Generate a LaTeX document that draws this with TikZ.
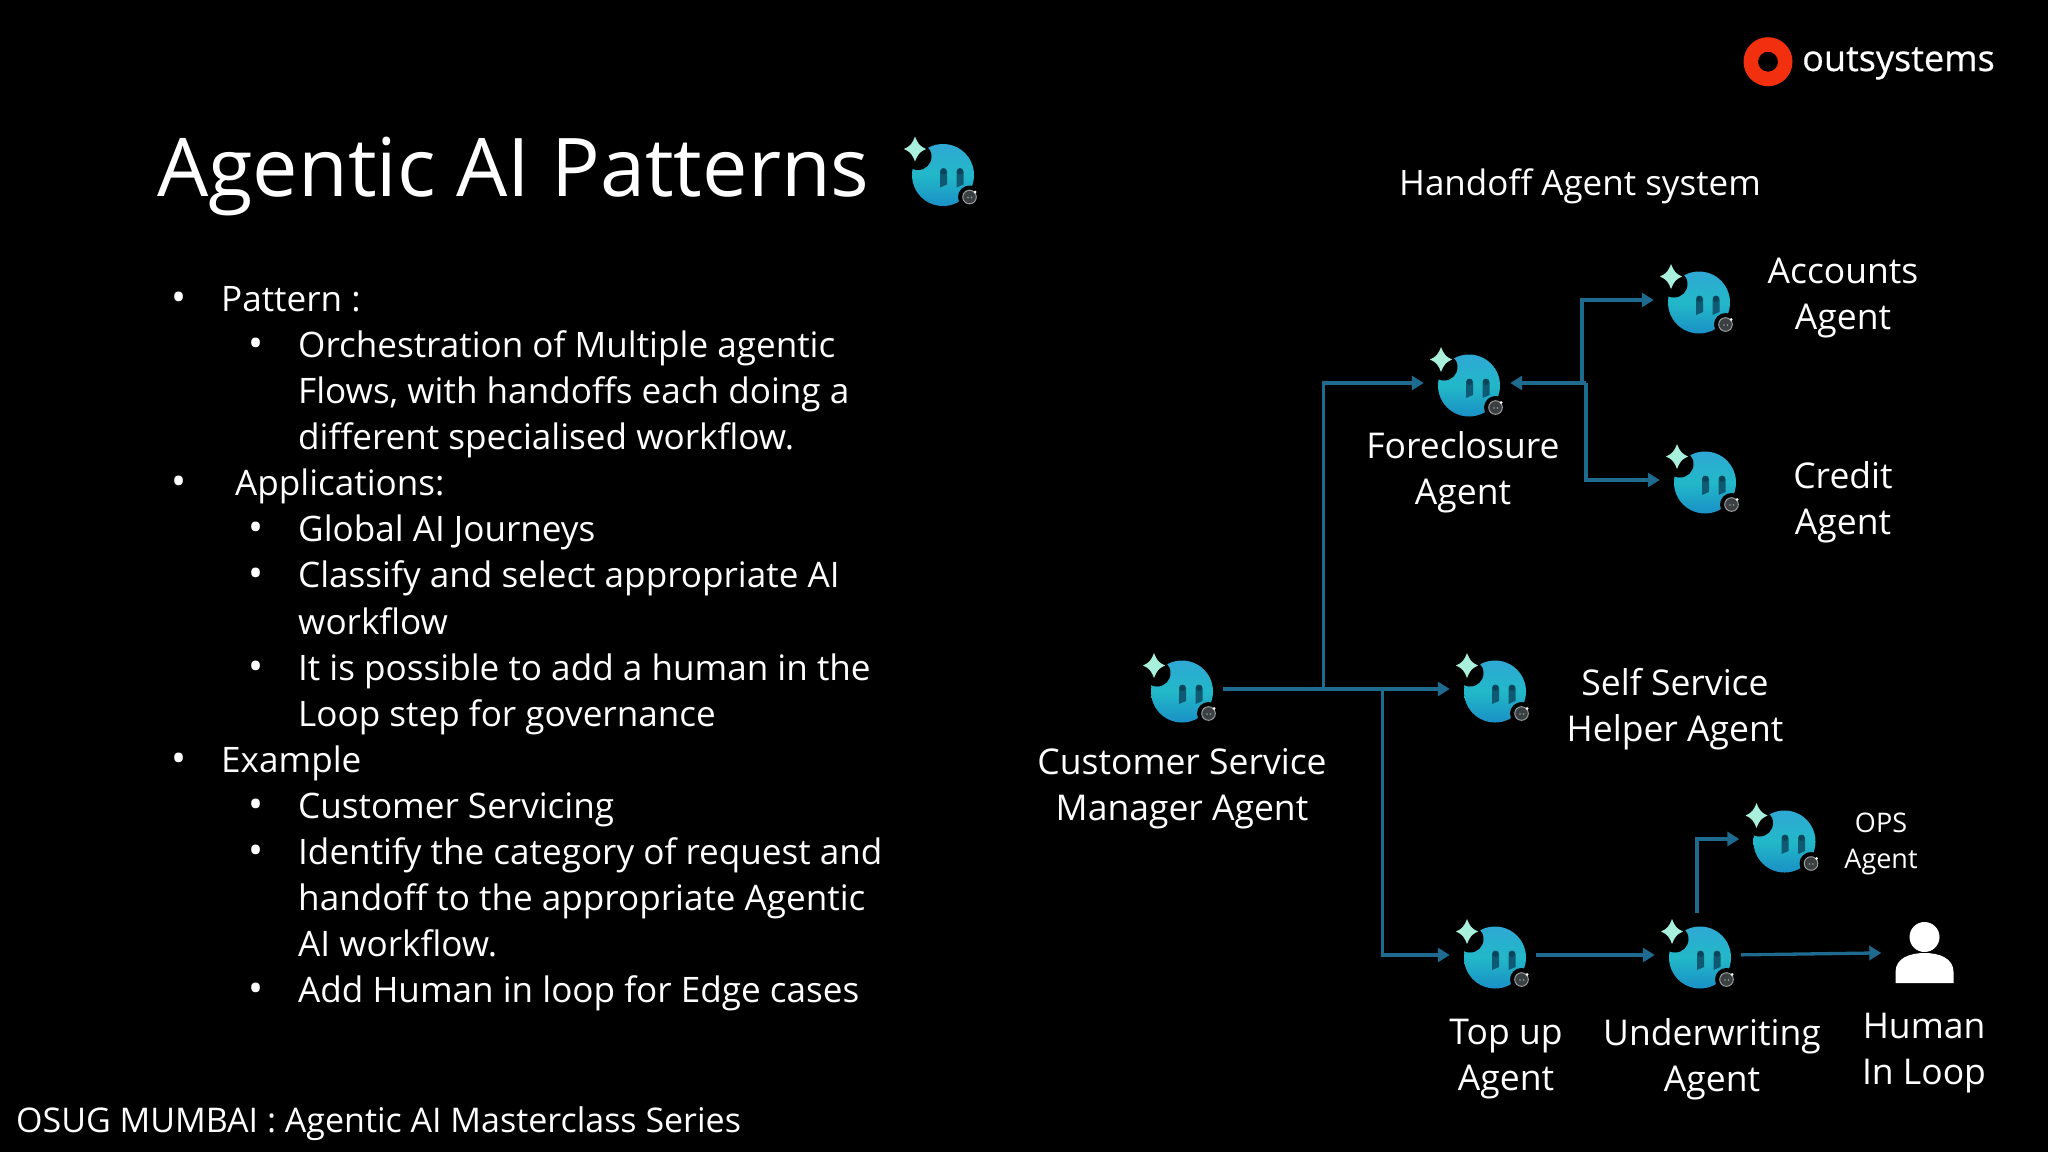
\documentclass[tikz,border=0pt]{standalone}
\usepackage{fontspec}
\setmainfont{Open Sans}
\usetikzlibrary{arrows.meta}
\definecolor{flowblue}{HTML}{1F6A8F}
\definecolor{logored}{HTML}{F2300F}
\definecolor{sparkle}{HTML}{A8F0DC}
\definecolor{eyedark}{HTML}{0B4458}
\definecolor{eyelow}{HTML}{0F5A72}
\definecolor{balltop}{HTML}{2FA8D4}
\definecolor{ballmid}{HTML}{22B8C8}
\definecolor{ballbot}{HTML}{1A90C6}
\definecolor{badgefill}{HTML}{3A3F42}
\definecolor{badgeline}{HTML}{9A9C9E}
\tikzset{
  x=1pt,y=-1pt,
  flow/.style={draw=flowblue,line width=3.3pt,-{Triangle[length=12pt,width=14pt]},shorten >=14pt},
  back/.style={flow,shorten >=10pt,shorten <=0pt},
  hub/.style={circle,minimum size=62pt,inner sep=0pt},
  lbl/.style={text=white,align=center,font=\fontsize{35.5}{46}\selectfont},
  small/.style={text=white,align=center,font=\fontsize{27}{36}\selectfont},
  item/.style={text=white,anchor=base west,inner sep=0pt,font=\fontsize{35.1}{46}\selectfont},
  dot/.style={text=white,anchor=base,inner sep=0pt,font=\fontsize{40}{46}\selectfont},
  agent/.pic={
    \shade[top color=balltop,bottom color=ballbot,middle color=ballmid] (0,2.5) circle[radius=31];
    \fill[black] (-25,-16) circle[radius=13.5];
    \fill[black] (26.5,24.5) circle[radius=11.5];
    \fill[sparkle] (-28,-36) .. controls (-25,-28.5) and (-23.5,-26.5) .. (-17,-23.5)
      .. controls (-23.5,-20.5) and (-25,-18.5) .. (-28,-11)
      .. controls (-31,-18.5) and (-32.5,-20.5) .. (-39,-23.5)
      .. controls (-32.5,-26.5) and (-31,-28.5) .. cycle;
    \foreach \ex in {0.5,17}{
      \fill[eyelow] (\ex-3.5,15) -- (\ex-3.5,-1) arc[start angle=180,end angle=360,radius=3.5] -- (\ex+3.5,12) -- cycle;
      \fill[eyedark] (\ex,-1) circle[radius=3];
    }
    \draw[draw=badgeline,fill=badgefill,line width=1pt] (26.5,24.5) circle[radius=6.8];
    \fill[white] (32,19.5) circle[radius=1.5];
    \fill[badgeline] (25,25) circle[radius=0.8] (28.5,25) circle[radius=0.8];
  }
}
\newfontfamily\logofont{Open Sans}[FakeBold=0.5]
\begin{document}
\begin{tikzpicture}
  \path[use as bounding box,fill=black] (0,0) rectangle (2048,1152);

  % logo and headings
  \fill[logored,even odd rule] (1768,61.7) circle[radius=24.5] circle[radius=10];
  \node[text=white,anchor=base west,inner sep=0pt,font=\logofont\fontsize{36}{40}\selectfont] (logo) at (1802,71) {outsystems};
  \node[text=white,anchor=base west,inner sep=0pt,font=\fontsize{81}{90}\selectfont] (title) at (157,196) {Agentic AI Patterns};
  \node[text=white,anchor=base west,inner sep=0pt,font=\fontsize{34}{40}\selectfont] (footer) at (16,1132) {OSUG MUMBAI : Agentic AI Masterclass Series};
  \node[lbl,font=\fontsize{35}{46}\selectfont] (head) at (1580,186) {Handoff Agent system};

  % bullet list
  \foreach \k/\lx/\bx/\bul/\txt in {
    0/221/179/1/{Pattern :},
    1/298/256/1/{Orchestration of Multiple agentic},
    2/298/256/0/{Flows, with handoffs each doing a},
    3/298/256/0/{different specialised workflow.},
    4/235/179/1/{Applications:},
    5/298/256/1/{Global AI Journeys},
    6/298/256/1/{Classify and select appropriate AI},
    7/298/256/0/{workflow},
    8/298/256/1/{It is possible to add a human in the},
    9/298/256/0/{Loop step for governance},
    10/221/179/1/{Example},
    11/298/256/1/{Customer Servicing},
    12/298/256/1/{Identify the category of request and},
    13/298/256/0/{handoff to the appropriate Agentic},
    14/298/256/0/{AI workflow.},
    15/298/256/1/{Add Human in loop for Edge cases}}{
    \node[item] (line\k) at (\lx,311.5+46.07*\k) {\txt};
    \ifnum\bul=1
      \node[dot] (bul\k) at (\bx,311.5+46.07*\k) {•};
    \fi
  }

  % agents
  \foreach \n/\x/\y in {tic/943/172.5,cs/1182/689,fore/1469/383,acc/1699/300,cred/1705/480,
    self/1495/689,topup/1495/955,uw/1700/955,ops/1784.5/839}{
    \node[hub] (\n) at (\x,\y) {};
    \pic at (\n) {agent};
  }

  % human
  \node[circle,minimum size=58pt,inner sep=0pt] (human) at (1924.5,952.7) {};
  \fill[white] (1924.5,937) circle[radius=15];
  \fill[white] (1895.5,983) -- (1895.5,972) .. controls (1895.5,958) and (1910,953) .. (1924.5,953)
    .. controls (1939,953) and (1953.5,958) .. (1953.5,972) -- (1953.5,983) -- cycle;

  % labels
  \node[lbl] (lacc) at (1843,298) {Accounts\\Agent};
  \node[lbl] (lfore) at (1463,472) {Foreclosure\\Agent};
  \node[lbl] (lcred) at (1843,502) {Credit\\Agent};
  \node[lbl] (lself) at (1675,709) {Self Service\\Helper Agent};
  \node[lbl] (lcs) at (1182,789) {Customer Service\\Manager Agent};
  \node[small] (lops) at (1881,844) {OPS\\Agent};
  \node[lbl] (ltop) at (1506,1059) {Top up\\Agent};
  \node[lbl] (luw) at (1712,1059) {Underwriting\\Agent};
  \node[lbl] (lhum) at (1924,1053) {Human\\In Loop};

  % connectors
  \coordinate (j1) at (1323.5,689);
  \coordinate (j2) at (1382.4,689);
  \coordinate (j3) at (1586,383);
  \coordinate (j4) at (1582,383);
  \coordinate (j5) at (1697,913);
  \draw[flow,shorten <=10pt] (cs.east) -- (self.west);
  \draw[flow] (j1) |- (fore.west);
  \draw[flow] (j2) |- (topup.west);
  \draw[back] (j3) -- (fore.east);
  \draw[flow] (j4) |- (acc.west);
  \draw[flow] (j3) |- (cred.west);
  \draw[flow,shorten <=10pt] (topup.east) -- (uw.west);
  \draw[flow] (j5) |- (ops.west);
  \draw[flow,shorten <=10pt] (uw.east) -- (human.west);
\end{tikzpicture}
\end{document}
